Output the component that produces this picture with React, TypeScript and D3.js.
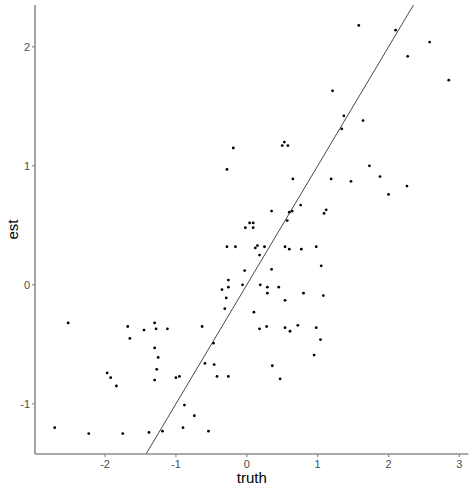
import React from "react";
import * as d3 from "d3";

const truth = [
  -0.19, -0.28, -0.28, -0.16, 1.58, 2.1, 2.58, 2.27, 2.85, 1.21,
  1.37, 1.64, 1.34, 0.53, 0.5, 0.58, 1.73, 1.88, 0.65, 1.19,
  1.47, 2.26, 2.0, 0.35, 0.76, 0.64, 0.6, 1.09, 1.12, 0.57,
  0.04, 0.09, -0.02, 0.09, 0.12, 0.15, 0.25, 0.54, 0.6, 0.77,
  0.98, 0.18, -0.03, 0.35, 1.05, -0.26, -0.26, -0.35, -0.29, -0.31,
  -0.06, 0.19, 0.29, 0.29, 0.45, 0.8, 1.08, 0.54, 0.1, -0.63,
  -0.47, 0.18, 0.28, 0.54, 0.61, 0.72, 0.98, 1.04, 0.95, -0.59,
  -0.46, -0.42, -0.26, 0.36, 0.47, -2.52, -1.68, -1.65, -1.45, -1.3,
  -1.28, -1.12, -1.3, -1.25, -1.27, -1.3, -1.97, -1.92, -1.84, -1.0,
  -0.95, -0.88, -0.74, -0.9, -0.54, -1.19, -1.38, -1.75, -2.23, -2.71,
];
const est = [
  1.15, 0.97, 0.32, 0.32, 2.18, 2.14, 2.04, 1.92, 1.72, 1.63,
  1.42, 1.38, 1.31, 1.2, 1.17, 1.17, 1.0, 0.91, 0.89, 0.89,
  0.87, 0.83, 0.76, 0.62, 0.67, 0.62, 0.61, 0.6, 0.63, 0.54,
  0.52, 0.52, 0.48, 0.48, 0.31, 0.33, 0.32, 0.32, 0.3, 0.3,
  0.32, 0.25, 0.12, 0.13, 0.16, 0.04, -0.02, -0.04, -0.11, -0.2,
  0.0, 0.0, -0.02, -0.07, -0.02, -0.07, -0.09, -0.13, -0.23, -0.35,
  -0.49, -0.37, -0.35, -0.36, -0.39, -0.34, -0.36, -0.46, -0.59, -0.66,
  -0.67, -0.77, -0.77, -0.68, -0.79, -0.32, -0.35, -0.45, -0.38, -0.32,
  -0.37, -0.37, -0.53, -0.61, -0.71, -0.8, -0.74, -0.78, -0.85, -0.78,
  -0.77, -1.01, -1.1, -1.2, -1.23, -1.23, -1.24, -1.25, -1.25, -1.2,
];
const xTicks = [-2, -1, 0, 1, 2, 3];
const yTicks = [-1, 0, 1, 2];
const lineIntercept = 0;
const lineSlope = 1;

const W = 474;
const H = 491;
const left = 35;
const right = 468.5;
const top = 5;
const bottom = 454;

export default function App() {
  const xExt = d3.extent(truth) as [number, number];
  const yExt = d3.extent(est) as [number, number];
  const xPad = (xExt[1] - xExt[0]) * 0.05;
  const yPad = (yExt[1] - yExt[0]) * 0.05;
  const x = d3.scaleLinear().domain([xExt[0] - xPad, xExt[1] + xPad]).range([left, right]);
  const y = d3.scaleLinear().domain([yExt[0] - yPad, yExt[1] + yPad]).range([bottom, top]);

  // line y = a + b x clipped to panel
  const [x0, x1] = x.domain();
  const [y0, y1] = y.domain();
  let lx0 = Math.max(x0, (y0 - lineIntercept) / lineSlope);
  let lx1 = Math.min(x1, (y1 - lineIntercept) / lineSlope);
  const lineGen = d3
    .line<number>()
    .x((d) => x(d))
    .y((d) => y(lineIntercept + lineSlope * d));

  const axisColor = "#8c8c8c";
  const tickText = "#4d4d4d";
  const font = "'Liberation Sans', Arial, sans-serif";

  return (
    <svg
      width={W}
      height={H}
      style={{ position: "absolute", left: 0, top: 0, background: "#fff" }}
      fontFamily={font}
    >
      <rect x={0} y={0} width={W} height={H} fill="#fff" />
      {/* points */}
      {truth.map((t, i) => (
        <circle key={i} cx={x(t)} cy={y(est[i])} r={1.4} fill="#000" />
      ))}
      {/* abline */}
      <path d={lineGen([lx0, lx1]) || ""} stroke="#333" strokeWidth={0.9} fill="none" />
      {/* axes */}
      <line x1={left} x2={left} y1={top} y2={bottom} stroke={axisColor} strokeWidth={1.6} />
      <line x1={left} x2={right} y1={bottom} y2={bottom} stroke={axisColor} strokeWidth={1.6} />
      {xTicks.map((t) => (
        <g key={"x" + t}>
          <line x1={x(t)} x2={x(t)} y1={bottom} y2={bottom + 3} stroke={axisColor} strokeWidth={1.2} />
          <text x={x(t)} y={bottom + 14} fontSize={11} fill={tickText} textAnchor="middle">
            {t}
          </text>
        </g>
      ))}
      {yTicks.map((t) => (
        <g key={"y" + t}>
          <line x1={left - 3} x2={left} y1={y(t)} y2={y(t)} stroke={axisColor} strokeWidth={1.2} />
          <text x={left - 5} y={y(t) + 4} fontSize={11} fill={tickText} textAnchor="end">
            {t}
          </text>
        </g>
      ))}
      <text x={(left + right) / 2} y={483} fontSize={15} fill="#000" textAnchor="middle">
        truth
      </text>
      <text
        transform={`translate(18, ${(top + bottom) / 2}) rotate(-90)`}
        fontSize={15}
        fill="#000"
        textAnchor="middle"
      >
        est
      </text>
    </svg>
  );
}
